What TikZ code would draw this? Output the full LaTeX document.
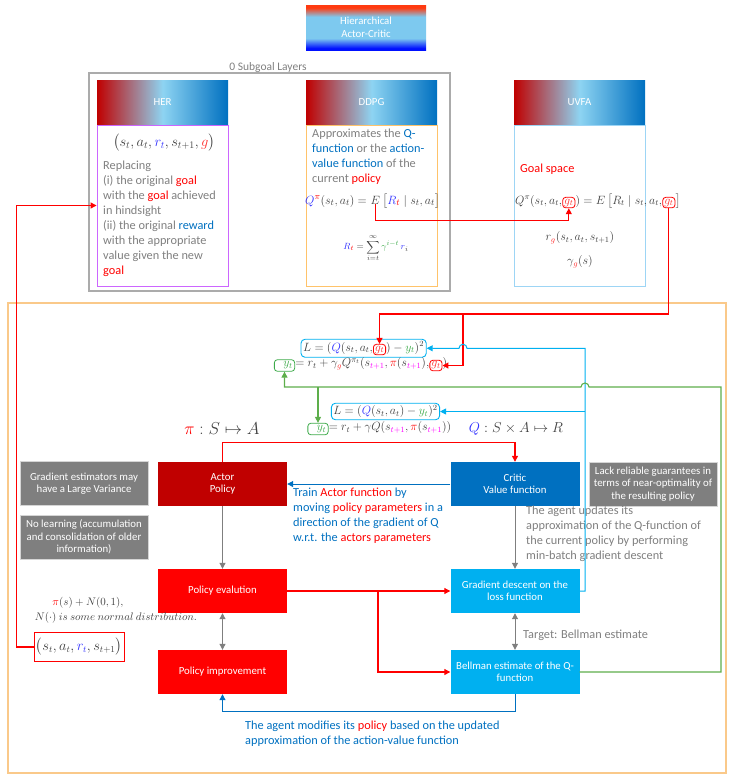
\documentclass[tikz,border=0pt]{standalone}
\usepackage{fontspec}
\setmainfont{Carlito}
\usepackage{amsmath}
\usetikzlibrary{positioning,arrows.meta,fit}

\definecolor{acred}{HTML}{C00000}
\definecolor{evred}{HTML}{FF0000}
\definecolor{crblue}{HTML}{0070C0}
\definecolor{lossblue}{HTML}{00B0F0}
\definecolor{paleblue}{HTML}{8ED4F2}
\definecolor{notegray}{HTML}{7F7F7F}
\definecolor{framegray}{HTML}{ABABAB}
\definecolor{hercol}{HTML}{CC66FF}
\definecolor{ddpgcol}{HTML}{FFC36A}
\definecolor{uvfacol}{HTML}{9DD5F5}
\definecolor{outercol}{HTML}{FAC98A}
\definecolor{qcol}{HTML}{3333FF}
\definecolor{ycol}{HTML}{3DAA4A}
\definecolor{gcol}{HTML}{FF2A2A}
\definecolor{tcol}{HTML}{FF00FF}
\definecolor{mathgray}{HTML}{404040}
\definecolor{linegreen}{HTML}{5DAE4B}
\definecolor{hacred}{HTML}{FF3A10}
\definecolor{hacsky}{HTML}{7DC9EF}
\definecolor{hacblue}{HTML}{0010FF}

\pgfdeclareverticalshading{hacshade}{100bp}{color(0bp)=(hacblue); color(27bp)=(hacblue); color(38bp)=(hacsky); color(62bp)=(hacsky); color(72bp)=(hacred); color(100bp)=(hacred)}

\newcommand{\rd}[1]{\textcolor{evred}{#1}}
\newcommand{\bu}[1]{\textcolor{crblue}{#1}}

\tikzset{
  hdr/.style={minimum width=131pt, minimum height=45pt, inner sep=0pt, left color=acred, right color=crblue, middle color=paleblue, text=white, font=\fontsize{10.8}{12}\selectfont},
  body/.style={minimum width=131pt, minimum height=161pt, inner sep=0pt, draw, line width=0.9pt},
  blockbox/.style={minimum width=129pt, minimum height=44pt, inner sep=0pt, align=center, text=white, font=\fontsize{10.8}{12.5}\selectfont},
  notebox/.style={blockbox, minimum width=128pt, fill=notegray, draw=framegray!50, line width=0.8pt},
  fml/.style={inner sep=0pt, text=mathgray, font=\fontsize{12}{14}\selectfont},
  para/.style={inner sep=0pt, align=left, text=notegray, font=\fontsize{12.3}{15}\selectfont},
  gbox/.style={fml, draw=evred, rounded corners=3pt, inner sep=1.5pt, line width=0.8pt},
  ybox/.style={fml, draw=ycol, rounded corners=3pt, inner sep=2pt, line width=0.8pt},
  lbox/.style={draw=lossblue, rounded corners=4pt, inner sep=2pt, line width=0.9pt},
  redline/.style={draw=evred, line width=1.1pt, -{Triangle[length=6pt,width=6pt]}},
  blueline/.style={draw=lossblue, line width=1pt, -{Triangle[length=6pt,width=6pt]}},
  greenline/.style={draw=linegreen, line width=1.1pt, -{Triangle[length=6pt,width=6pt]}},
  grayline/.style={draw=notegray, line width=1pt, -{Triangle[length=6pt,width=6pt]}}
}

\begin{document}
\begin{tikzpicture}[x=1pt,y=-1pt]
  \useasboundingbox (0,0) rectangle (733,777);

  \node[minimum width=120pt, minimum height=45pt, shading=hacshade, text=white, align=center,
        font=\fontsize{10.8}{12.5}\selectfont] (hac) at (366,27.5) {Hierarchical\\Actor-Critic};

  \draw[framegray, line width=1.2pt] (89,73) rectangle (450,291);
  \node[text=notegray, font=\fontsize{11.5}{13}\selectfont] (subgoal) at (268,67) {0 Subgoal Layers};
  \draw[outercol, line width=1.2pt] (8,303) rectangle (726,773);

  \node[hdr] (her) at (162.5,102.5) {HER};
  \node[hdr] (ddpg) at (371.5,102.5) {DDPG};
  \node[hdr] (uvfa) at (579.5,102.5) {UVFA};
  \node[body, draw=hercol] (herb) at (162.5,205.5) {};
  \node[body, draw=ddpgcol] (ddpgb) at (371.5,205.5) {};
  \node[body, draw=uvfacol] (uvfab) at (579.5,205.5) {};

  \node[fml, font=\fontsize{14}{16}\selectfont] (hertuple) at (164,143) {$\bigl(s_t, a_t, \textcolor{qcol}{r_t}, s_{t+1}, \textcolor{gcol}{g}\bigr)$};
  \node[para, anchor=north west] (hertext) at (103,161)
    {Replacing\\(i) the original \rd{goal}\\with the \rd{goal} achieved\\in hindsight\\(ii) the original \bu{reward}\\with the appropriate\\value given the new\\\rd{goal}};

  \node[para, anchor=north west] (ddpgtext) at (312,129)
    {Approximates the \bu{Q-}\\\bu{function} or the \bu{action-}\\\bu{value function} of the\\current \rd{policy}};
  \node[fml, font=\fontsize{13}{15}\selectfont, anchor=base west] (dq) at (305,204) {$\textcolor{qcol}{Q}^{\textcolor{evred}{\pi}}(s_t, a_t) = {}$};
  \node[fml, font=\fontsize{13}{15}\selectfont, anchor=base west] (dE) at (dq.base east) {$E$};
  \node[fml, font=\fontsize{13}{15}\selectfont, anchor=base west] (dr) at (dE.base east) {$\,\bigl[\textcolor{qcol}{R}_{\textcolor{evred}{t}} \mid s_t, a_t\bigr]$};
  \node[fml, font=\fontsize{9.5}{11}\selectfont] (dsum) at (376,248)
    {$\displaystyle \textcolor{qcol}{R}_{\textcolor{evred}{t}} = \sum_{i=t}^{\infty} \textcolor{ycol}{\gamma^{i-t}}\, \textcolor{qcol}{r}_i$};

  \node[para, anchor=west, text=evred] (goalspace) at (520,169) {Goal space};
  \node[fml, anchor=base west] (u1) at (515,204) {$Q^{\pi}(s_t, a_t,$};
  \node[gbox, anchor=base west] (ug1) at (u1.base east) {$\textcolor{gcol}{g_t}$};
  \node[fml, anchor=base west] (u2) at (ug1.base east) {$) = E\,\bigl[R_t \mid s_t, a_t,$};
  \node[gbox, anchor=base west] (ug2) at (u2.base east) {$\textcolor{gcol}{g_t}$};
  \node[fml, anchor=base west] (u3) at (ug2.base east) {$\bigr]$};
  \node[fml] (rg) at (580,238) {$r_{\textcolor{gcol}{g}}(s_t, a_t, s_{t+1})$};
  \node[fml] (gg) at (580,262) {$\gamma_{\textcolor{gcol}{g}}(s)$};

  \node[fml, anchor=base west] (la) at (303,351) {$L = (\textcolor{qcol}{Q}(s_t, a_t,$};
  \node[gbox, anchor=base west] (lg) at (la.base east) {$\textcolor{gcol}{g_t}$};
  \node[fml, anchor=base west] (lc) at (lg.base east) {$) - \textcolor{ycol}{y_t})^2$};
  \node[lbox, fit=(la)(lg)(lc)] (L1) {};
  \node[ybox] (y1) at (284.5,365.5) {\hspace{7pt}$\textcolor{ycol}{y_t}$};
  \node[fml, anchor=base west] (ya) at (y1.base east)
    {$= r_t + \gamma_{\textcolor{gcol}{g}} Q^{\pi_t}(s_{\textcolor{tcol}{t+1}}, \textcolor{evred}{\pi}(s_{\textcolor{tcol}{t+1}}),$};
  \node[gbox, anchor=base west] (yg) at (ya.base east) {$\textcolor{gcol}{g_t}$};
  \node[fml, anchor=base west] (yc) at (yg.base east) {$)$};

  \node[fml, lbox] (L2) at (385.5,411.5) {$L = (\textcolor{qcol}{Q}(s_t, a_t) - \textcolor{ycol}{y_t})^2$};
  \node[ybox] (y2) at (318,429) {\hspace{7pt}$\textcolor{ycol}{y_t}$};
  \node[fml, anchor=base west] (yb) at (y2.base east)
    {$= r_t + \gamma Q(s_{\textcolor{tcol}{t+1}}, \textcolor{evred}{\pi}(s_{\textcolor{tcol}{t+1}}))$};

  \node[fml, font=\fontsize{17}{19}\selectfont] (pimap) at (222,429) {$\textcolor{evred}{\pi} : S \mapsto A$};
  \node[fml, font=\fontsize{15}{17}\selectfont] (qmap) at (516,429) {$\textcolor{qcol}{Q} : S \times A \mapsto R$};

  \node[blockbox, fill=acred] (actor) at (222.5,484) {Actor\\Policy};
  \node[blockbox, fill=crblue] (critic) at (515,484) {Critic\\Value function};
  \node[blockbox, fill=evred] (pe) at (222.5,591) {Policy evalution};
  \node[blockbox, fill=evred] (pi) at (222.5,672) {Policy improvement};
  \node[blockbox, fill=lossblue] (gd) at (515,591) {Gradient descent on the\\loss function};
  \node[blockbox, fill=lossblue] (be) at (515,672) {Bellman estimate of the Q-\\function};

  \node[notebox] (varnote) at (84,483.5) {Gradient estimators may\\have a Large Variance};
  \node[notebox] (learnnote) at (84,537) {No learning (accumulation\\and consolidation of older\\information)};
  \node[notebox] (guarnote) at (653,484) {Lack reliable guarantees in\\terms of near-optimality of\\the resulting policy};

  \node[para, anchor=north west, text=crblue] (traintext) at (293,488)
    {Train \rd{Actor function} by\\moving \rd{policy parameters} in a\\direction of the gradient of Q\\w.r.t. the \rd{actors parameters}};
  \node[para, anchor=north west] (agenttext) at (526,506)
    {The agent updates its\\approximation of the Q-function of\\the current policy by performing\\min-batch gradient descent};
  \node[para, anchor=west] (target) at (523,635) {Target: Bellman estimate};
  \node[para, anchor=north west, text=crblue] (modtext) at (245,721)
    {The agent modifies its \rd{policy} based on the updated\\approximation of the action-value function};

  \node[fml, font=\fontsize{10.5}{12}\selectfont] (noise) at (88,603) {$\textcolor{evred}{\pi}(s) + N(0,1),$};
  \node[fml, font=\fontsize{10.5}{12}\selectfont] (normal) at (116,618) {$N(\cdot)\ is\ some\ normal\ distribution.$};
  \node[fml, font=\fontsize{13.5}{15}\selectfont, draw=evred, line width=0.9pt, minimum width=90pt, minimum height=29pt] (sbox) at (79,647)
    {$\bigl(s_t, a_t, \textcolor{qcol}{r_t}, s_{t+1}\bigr)$};

  \coordinate (redrow) at (463,314);
  \coordinate (bluex) at (585,0);
  \coordinate (hopr) at (467,0);
  \coordinate (greenrow) at (721,387);
  \coordinate (pesplit) at (378,0);

  \begin{scope}
    \draw[redline] (dE.south) -- ++(0,16) -| (ug1.south);
    \draw[redline] (ug2.south) |- (redrow) -| (lg.north);
    \draw[redline] (redrow) |- (yg.east);
    \draw[blueline] (gd.east) -| (L1.east -| bluex) -- (L1.east -| hopr)
      arc[start angle=0, end angle=-180, radius=4] -- (L1.east);
    \draw[blueline] (L2.east -| bluex) -- (L2.east);
    \draw[greenline] (be.east) -| (greenrow) -- (589,387)
      arc[start angle=0, end angle=-180, radius=4] -| (y1.south);
    \draw[greenline] (y2.north |- greenrow) -- (y2.north);
    \draw[redline] (actor.north) -- ++(0,-19) -| (critic.north);
    \draw[draw=crblue, line width=1pt, -{Triangle[length=6pt,width=6pt]}] (critic.west) -- (actor.east);
    \draw[grayline] (actor.south) -- (pe.north);
    \draw[grayline] (critic.south) -- (gd.north);
    \draw[grayline, {Triangle[length=6pt,width=6pt]}-{Triangle[length=6pt,width=6pt]}] (pe.south) -- (pi.north);
    \draw[grayline, {Triangle[length=6pt,width=6pt]}-{Triangle[length=6pt,width=6pt]}] (gd.south) -- (be.north);
    \draw[redline] (pe.east) -- (gd.west);
    \draw[redline] (pe.east -| pesplit) |- (be.west);
    \draw[draw=crblue, line width=1pt, -{Triangle[length=6pt,width=6pt]}] (be.south) -- ++(0,17) -| (pi.south);
    \draw[redline] (sbox.west) -- ++(-17,0) |- (herb.west);
  \end{scope}
\end{tikzpicture}
\end{document}
